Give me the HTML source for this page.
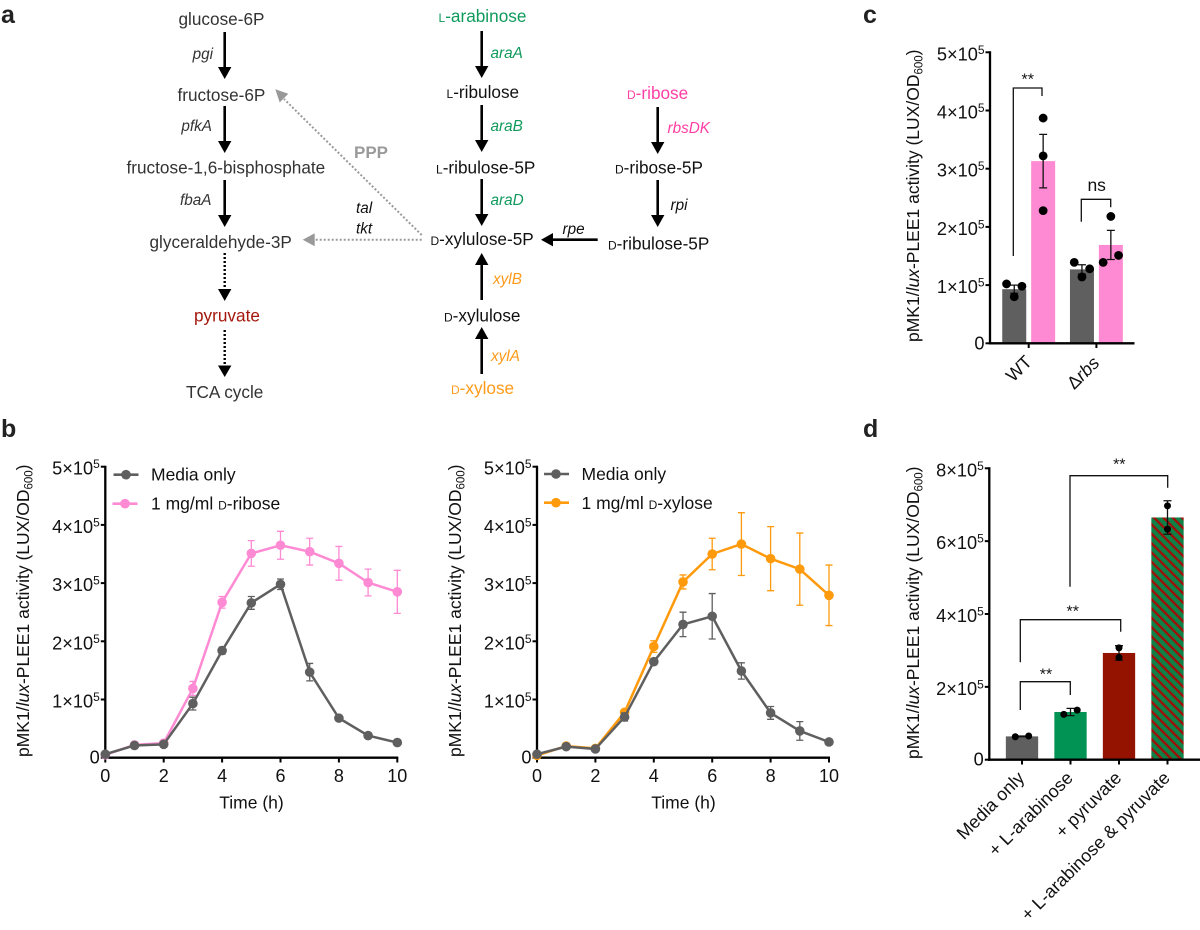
<!DOCTYPE html>
<html lang="en">
<head>
<meta charset="utf-8">
<title>Pathway and pMK1lux-PLEE1 activity figure</title>
<style>
html,body{margin:0;padding:0;background:#fff;}
svg{display:block;}
text{font-family:"Liberation Sans",Arial,sans-serif;font-size:17.2px;fill:#111;}
.m{fill:#333;}
.g{font-size:15.3px;font-style:italic;}
.t{font-size:17.5px;}
.n{font-size:18.2px;}
.r{font-size:18px;}
.letter{font-size:25px;font-weight:bold;fill:#222;}
</style>
</head>
<body>
<svg id="fig" xmlns="http://www.w3.org/2000/svg" width="1200" height="930" viewBox="0 0 1200 930">
<defs>
<pattern id="hatch" patternUnits="userSpaceOnUse" width="6.6" height="6.6" patternTransform="rotate(-45)">
<rect width="6.6" height="6.6" fill="#0f8048"/>
<rect width="2.4" height="6.6" fill="#9a1208"/>
</pattern>
</defs>
<text class="letter" x="1" y="23">a</text>
<text class="letter" x="1" y="437">b</text>
<text class="letter" x="863" y="23">c</text>
<text class="letter" x="863" y="437">d</text>

<g id="pathway">
<text class="m" x="178.5" y="25">glucose-6P</text>
<text class="m" x="177.5" y="101">fructose-6P</text>
<text class="m" x="126.5" y="173.5">fructose-1,6-bisphosphate</text>
<text class="m" x="149.5" y="248">glyceraldehyde-3P</text>
<text x="194" y="321.5" style="fill:#a5170c">pyruvate</text>
<text class="m" x="186" y="398">TCA cycle</text>

<text class="g m" x="213" y="59" text-anchor="end">pgi</text>
<text class="g m" x="212" y="131" text-anchor="end">pfkA</text>
<text class="g m" x="211.5" y="205" text-anchor="end">fbaA</text>
<text class="g" x="356" y="213">tal</text>
<text class="g" x="356" y="233.5">tkt</text>
<text x="354" y="158" style="font-size:17px;font-weight:bold;fill:#9a9a9a">PPP</text>

<text x="438.5" y="22" style="fill:#0f9a5c"><tspan font-size="12">L</tspan>-arabinose</text>
<text x="446.5" y="98"><tspan font-size="12">L</tspan>-ribulose</text>
<text x="436" y="173.5"><tspan font-size="12">L</tspan>-ribulose-5P</text>
<text x="430.5" y="245"><tspan font-size="12">D</tspan>-xylulose-5P</text>
<text x="444" y="321.5"><tspan font-size="12">D</tspan>-xylulose</text>
<text x="451" y="394" style="fill:#ff9a1a"><tspan font-size="12">D</tspan>-xylose</text>
<text x="627" y="99" style="fill:#ff3fa4"><tspan font-size="12">D</tspan>-ribose</text>
<text x="615" y="173.5"><tspan font-size="12">D</tspan>-ribose-5P</text>
<text x="608" y="249.5"><tspan font-size="12">D</tspan>-ribulose-5P</text>

<text class="g" x="490.5" y="58" style="fill:#0f9a5c">araA</text>
<text class="g" x="490.5" y="131" style="fill:#0f9a5c">araB</text>
<text class="g" x="490.5" y="205" style="fill:#0f9a5c">araD</text>
<text class="g" x="493" y="284" style="fill:#ff9a1a">xylB</text>
<text class="g" x="491" y="361" style="fill:#ff9a1a">xylA</text>
<text class="g" x="562.5" y="234">rpe</text>
<text class="g" x="667.5" y="133" style="fill:#ff3fa4">rbsDK</text>
<text class="g" x="670.5" y="210">rpi</text>

<g stroke="#000" stroke-width="2.6" fill="#000">
<line x1="224.7" y1="32" x2="224.7" y2="69"/><path stroke="none" d="M218 67h13.4l-6.7 12z"/>
<line x1="224.7" y1="106" x2="224.7" y2="143"/><path stroke="none" d="M218 141h13.4l-6.7 12z"/>
<line x1="224.7" y1="180" x2="224.7" y2="217"/><path stroke="none" d="M218 215h13.4l-6.7 12z"/>
<line x1="481.7" y1="31" x2="481.7" y2="68"/><path stroke="none" d="M475 66h13.4l-6.7 12z"/>
<line x1="481.7" y1="105" x2="481.7" y2="142"/><path stroke="none" d="M475 140h13.4l-6.7 12z"/>
<line x1="481.7" y1="179" x2="481.7" y2="216"/><path stroke="none" d="M475 214h13.4l-6.7 12z"/>
<line x1="481.7" y1="300" x2="481.7" y2="263"/><path stroke="none" d="M475 265h13.4l-6.7 -12z"/>
<line x1="481.7" y1="374" x2="481.7" y2="337"/><path stroke="none" d="M475 339h13.4l-6.7 -12z"/>
<line x1="657.7" y1="107" x2="657.7" y2="144"/><path stroke="none" d="M651 142h13.4l-6.7 12z"/>
<line x1="657.7" y1="180" x2="657.7" y2="217"/><path stroke="none" d="M651 215h13.4l-6.7 12z"/>
<line x1="597.7" y1="239.7" x2="551" y2="239.7"/><path stroke="none" d="M553 233v13.4l-12 -6.7z"/>
</g>
<g stroke="#000" stroke-width="2.4" stroke-dasharray="2 2">
<line x1="224.7" y1="253" x2="224.7" y2="290"/>
<line x1="224.7" y1="330" x2="224.7" y2="366"/>
</g>
<path fill="#000" d="M218 289h13.4l-6.7 12zM218 365.5h13.4l-6.7 11.5z"/>
<g stroke="#999" stroke-width="2" stroke-dasharray="2 2" fill="none">
<line x1="421.7" y1="235" x2="284" y2="99"/>
<line x1="421.7" y1="239.7" x2="313" y2="239.7"/>
</g>
<path fill="#999" d="M275.3 89.3l13 4.4-8.6 8.8zM302.7 239.7l12 -6.5v13z"/>
</g>

<g id="panel-b-left">
<text class="t" transform="translate(29,757) rotate(-90)">pMK1/<tspan font-style="italic">lux</tspan>-PLEE1 activity (LUX/OD<tspan dy="3.5" font-size="11.5">600</tspan><tspan dy="-3.5">)</tspan></text>
<text class="t" x="251.5" y="808.5" text-anchor="middle">Time (h)</text>
<g><line x1="113.5" x2="138.5" y1="474.7" y2="474.7" stroke="#5f5f5f" stroke-width="2.6"/><circle cx="126" cy="474.7" r="4.8" fill="#5f5f5f"/><text class="t" x="151" y="480.7">Media only</text></g>
<g><line x1="112.5" x2="137.5" y1="503.7" y2="503.7" stroke="#ff8ad4" stroke-width="2.6"/><circle cx="125" cy="503.7" r="4.8" fill="#ff8ad4"/><text class="t" x="151" y="509.5">1 mg/ml <tspan font-size="12">D</tspan>-ribose</text></g>
</g>

<g id="panel-b-right">
<text class="t" transform="translate(461,757) rotate(-90)">pMK1/<tspan font-style="italic">lux</tspan>-PLEE1 activity (LUX/OD<tspan dy="3.5" font-size="11.5">600</tspan><tspan dy="-3.5">)</tspan></text>
<text class="t" x="683.5" y="808.5" text-anchor="middle">Time (h)</text>
<g><line x1="544" x2="569" y1="474" y2="474" stroke="#5f5f5f" stroke-width="2.6"/><circle cx="556" cy="474" r="4.8" fill="#5f5f5f"/><text class="t" x="581.5" y="480">Media only</text></g>
<g><line x1="544" x2="569" y1="502.7" y2="502.7" stroke="#ff9a0d" stroke-width="2.6"/><circle cx="556" cy="502.7" r="4.8" fill="#ff9a0d"/><text class="t" x="581.5" y="509">1 mg/ml <tspan font-size="12">D</tspan>-xylose</text></g>
</g>

<g id="panel-c">
<text class="t" transform="translate(919,342) rotate(-90)">pMK1/<tspan font-style="italic">lux</tspan>-PLEE1 activity (LUX/OD<tspan dy="3.5" font-size="11.5">600</tspan><tspan dy="-3.5">)</tspan></text>
<text class="r" transform="translate(1033,363) rotate(-45)" text-anchor="end">WT</text>
<text class="r" transform="translate(1100.5,364) rotate(-45)" text-anchor="end">Δ<tspan font-style="italic">rbs</tspan></text>
<path d="M1013.3 256V88H1042V96" fill="none" stroke="#111" stroke-width="1.3"/>
<text x="1027.7" y="84.5" text-anchor="middle" style="font-size:16px">**</text>
<path d="M1081.3 221.7V199.3H1110.7V207.3" fill="none" stroke="#111" stroke-width="1.3"/>
<text class="t" x="1096.7" y="191" text-anchor="middle">ns</text>
</g>

<g id="panel-d">
<text class="t" transform="translate(919,759) rotate(-90)">pMK1/<tspan font-style="italic">lux</tspan>-PLEE1 activity (LUX/OD<tspan dy="3.5" font-size="11.5">600</tspan><tspan dy="-3.5">)</tspan></text>
<text class="r" transform="translate(1025.5,779) rotate(-45)" text-anchor="end">Media only</text>
<text class="r" transform="translate(1074,779) rotate(-45)" text-anchor="end">+ L-arabinose</text>
<text class="r" transform="translate(1122.5,779) rotate(-45)" text-anchor="end">+ pyruvate</text>
<text class="r" transform="translate(1171,779) rotate(-45)" text-anchor="end">+ L-arabinose &amp; pyruvate</text>
<path d="M1020.3 710V681.7H1070.3V695" fill="none" stroke="#111" stroke-width="1.3"/>
<text x="1046" y="679.5" text-anchor="middle" style="font-size:16px">**</text>
<path d="M1020.3 662.3V619.7H1120.7V631.7" fill="none" stroke="#111" stroke-width="1.3"/>
<text x="1072.7" y="616.5" text-anchor="middle" style="font-size:16px">**</text>
<path d="M1070 586.7V475.7H1167.7V487.7" fill="none" stroke="#111" stroke-width="1.3"/>
<text x="1119.3" y="469.5" text-anchor="middle" style="font-size:16px">**</text>
</g>
</svg>

<script>
// All values in units of 10^5 LUX/OD600
const timeHours = [0,1,2,3,4,5,6,7,8,9,10];
const xTickHours = [0,2,4,6,8,10];
const yTicksFive = [0,1,2,3,4,5];
const yTicksEight = [0,2,4,6,8];

const mediaA = [0.06,0.21,0.23,0.93,1.84,2.66,2.98,1.47,0.68,0.38,0.26];
const mediaAErr = [0.02,0.02,0.02,0.11,0.06,0.11,0.09,0.15,0.02,0.02,0.02];
const ribose = [0.05,0.22,0.25,1.19,2.67,3.51,3.65,3.54,3.34,3.01,2.85];
const riboseErr = [0.01,0.01,0.01,0.12,0.10,0.22,0.24,0.23,0.29,0.23,0.37];

const mediaB = [0.06,0.19,0.15,0.70,1.65,2.29,2.43,1.49,0.77,0.46,0.27];
const mediaBErr = [0.02,0.02,0.02,0.07,0.04,0.21,0.39,0.14,0.11,0.16,0.02];
const xylose = [0.04,0.20,0.16,0.78,1.91,3.02,3.50,3.67,3.42,3.24,2.79];
const xyloseErr = [0.01,0.01,0.01,0.03,0.10,0.12,0.27,0.54,0.55,0.62,0.52];

const rbsMeans = [0.93,3.13,1.27,1.69];
const rbsErrs = [0.07,0.46,0.08,0.25];
const rbsPoints = [[0.80,1.02,0.98],[3.87,3.22,2.28],[1.14,1.39,1.28],[2.18,1.39,1.51]];

const comboMeans = [0.64,1.31,2.93,6.65];
const comboErrs = [0.01,0.10,0.20,0.46];
const comboPoints = [[0.63,0.65],[1.245,1.36],[3.07,2.81],[6.97,6.33]];

const NS = 'http://www.w3.org/2000/svg';
function make(tag, attrs, parent) {
  const e = document.createElementNS(NS, tag);
  for (const k in attrs) e.setAttribute(k, attrs[k]);
  parent.appendChild(e);
  return e;
}
function linear(d0, d1, r0, r1) {
  return function (v) { return r0 + (v - d0) * (r1 - r0) / (d1 - d0); };
}

function drawYAxis(parent, axisX, y, ticks, yTop, yBottom) {
  const axis = make('line', {x1: axisX, x2: axisX, y1: yTop - 1, y2: yBottom + 1, stroke: '#000', 'stroke-width': 2.3}, parent);
  
  
  ticks.forEach(function (v) {
    const tick = make('line', {x1: axisX - 4.5, x2: axisX, y1: y(v), y2: y(v), stroke: '#000', 'stroke-width': 2}, parent);
    
    
    const label = make('text', {x: axisX - 5.5, y: y(v) + (v === 0 ? 6 : 8), 'text-anchor': 'end', 'class': 'n'}, parent);
    
    
    if (v === 0) {
      label.textContent = '0';
    } else {
      label.appendChild(document.createTextNode(v + '×10'));
      const sup = make('tspan', {dy: -6.5, 'font-size': 12}, label);
      sup.textContent = '5';
    }
  });
}

function drawXAxisLine(parent, x0, x1, yPos) {
  const axis = make('line', {x1: x0, x2: x1, y1: yPos, y2: yPos, stroke: '#000', 'stroke-width': 2.3}, parent);
  
  
}

function drawSeries(parent, name, color, xs, ys, errs, x, y) {
  const g = make('g', {}, parent);
  
  
  xs.forEach(function (t, i) {
    const err = make('path', {
      d: 'M' + (x(t) - 3.5) + ' ' + y(ys[i] + errs[i]) + 'h7M' + x(t) + ' ' + y(ys[i] + errs[i]) + 'V' + y(ys[i] - errs[i]) + 'M' + (x(t) - 3.5) + ' ' + y(ys[i] - errs[i]) + 'h7',
      fill: 'none', stroke: color, 'stroke-width': 1.3
    }, g);
    
    
  });
  const line = make('polyline', {
    points: xs.map(function (t, i) { return x(t) + ',' + y(ys[i]); }).join(' '),
    fill: 'none', stroke: color, 'stroke-width': 2.5, 'stroke-linejoin': 'round'
  }, g);
  
  
  xs.forEach(function (t, i) {
    const dot = make('circle', {cx: x(t), cy: y(ys[i]), r: 4.8, fill: color}, g);
    
    
  });
}

function drawLineChart(id, axisX, axisXEnd, series) {
  const parent = document.getElementById(id);
  const x = linear(0, 10, axisX, axisXEnd);
  const y = linear(0, 5, 757.7, 466.7);
  drawYAxis(parent, axisX, y, yTicksFive, 466.7, 757.7);
  drawXAxisLine(parent, axisX - 1, axisXEnd + 1, 757.7);
  xTickHours.forEach(function (t) {
    const tick = make('line', {x1: x(t), x2: x(t), y1: 757.7, y2: 762.5, stroke: '#000', 'stroke-width': 2}, parent);
    
    
    const label = make('text', {x: x(t), y: 782, 'text-anchor': 'middle', 'class': 'r'}, parent);
    
    
    label.textContent = String(t);
  });
  series.forEach(function (s) {
    drawSeries(parent, s.name, s.color, timeHours, s.values, s.errors, x, y);
  });
}

drawLineChart('panel-b-left', 105.3, 397.3, [
  {name: 'ribose', color: '#ff8ad4', values: ribose, errors: riboseErr},
  {name: 'media-only', color: '#5f5f5f', values: mediaA, errors: mediaAErr}
]);
drawLineChart('panel-b-right', 537, 829, [
  {name: 'xylose', color: '#ff9a0d', values: xylose, errors: xyloseErr},
  {name: 'media-only', color: '#5f5f5f', values: mediaB, errors: mediaBErr}
]);

function drawBar(parent, name, fill, center, width, mean, err, points, y, r, spread) {
  const g = make('g', {}, parent);
  
  
  const bar = make('rect', {x: center - width / 2, y: y(mean), width: width, height: y(0) - y(mean), fill: fill}, g);
  
  
  const eb = make('path', {
    d: 'M' + (center - 4) + ' ' + y(mean + err) + 'h8M' + center + ' ' + y(mean + err) + 'V' + y(mean - err) + 'M' + (center - 4) + ' ' + y(mean - err) + 'h8',
    fill: 'none', stroke: '#111', 'stroke-width': 1.3
  }, g);
  
  
  let displaced = 0;
  points.forEach(function (v, i) {
    const crowded = points.some(function (o, j) { return j !== i && Math.abs(y(o) - y(v)) < 8; });
    let offset = 0;
    if (crowded) {
      offset = displaced === 0 ? -spread : spread;
      displaced += 1;
    }
    const dot = make('circle', {cx: center + offset, cy: y(v), r: r, fill: '#000'}, g);
    
    
  });
}

(function () {
  const parent = document.getElementById('panel-c');
  const y = linear(0, 5, 343.3, 52.3);
  const groupCenter = function (g) { return 1028.7 + g * 67.7; };
  const fills = ['#5f5f5f', '#ff8ad4'];
  const names = ['wt-media-bar', 'wt-ribose-bar', 'rbs-media-bar', 'rbs-ribose-bar'];
  rbsMeans.forEach(function (m, i) {
    const group = Math.floor(i / 2);
    const side = i % 2 === 0 ? -14.45 : 14.45;
    drawBar(parent, names[i], fills[i % 2], groupCenter(group) + side, 24, m, rbsErrs[i], rbsPoints[i], y, 4.4, 7.7);
  });
  drawYAxis(parent, 990, y, yTicksFive, 52.3, 343.3);
  drawXAxisLine(parent, 989, 1134.5, 343.3);
  [0, 1].forEach(function (g) {
    const tick = make('line', {x1: groupCenter(g), x2: groupCenter(g), y1: 343.3, y2: 348, stroke: '#000', 'stroke-width': 2}, parent);
    
    
  });
})();

(function () {
  const parent = document.getElementById('panel-d');
  const y = linear(0, 8, 759.7, 468.3);
  const center = function (i) { return 1022 + i * 48.5; };
  const fills = ['#5f5f5f', '#009353', '#931200', 'url(#hatch)'];
  const names = ['media-only-bar', 'arabinose-bar', 'pyruvate-bar', 'arabinose-pyruvate-bar'];
  comboMeans.forEach(function (m, i) {
    drawBar(parent, names[i], fills[i], center(i), 32.3, m, comboErrs[i], comboPoints[i], y, 3.5, 6.7);
  });
  drawYAxis(parent, 989.3, y, yTicksEight, 468.3, 759.7);
  drawXAxisLine(parent, 988, 1200, 759.7);
  comboMeans.forEach(function (m, i) {
    const tick = make('line', {x1: center(i), x2: center(i), y1: 759.7, y2: 764.5, stroke: '#000', 'stroke-width': 2}, parent);
    
    
  });
})();
</script>
</body>
</html>
